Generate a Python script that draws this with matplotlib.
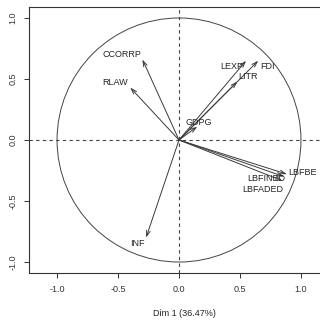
import matplotlib
matplotlib.use("Agg")
import matplotlib.pyplot as plt
from matplotlib.patches import Circle

plt.rcParams['font.family'] = ['Liberation Sans', 'DejaVu Sans']

variables = ["CCORRP", "RLAW", "LEXP", "FDI", "LITR", "GDPG",
             "LBFBE", "LBFINED", "LBFADED", "INF"]
dim1 = [-0.30, -0.40, 0.55, 0.65, 0.48, 0.15, 0.885, 0.86, 0.85, -0.27]
dim2 = [0.66, 0.43, 0.65, 0.65, 0.48, 0.11, -0.28, -0.30, -0.335, -0.80]
xlabel = "Dim 1 (36.47%)"
ticks = [-1.0, -0.5, 0.0, 0.5, 1.0]
tick_labels = ["-1.0", "-0.5", "0.0", "0.5", "1.0"]

# label offsets in pixels (layout only)
offsets = [(-20, 5), (-15, 5), (-14, -6), (9, -6), (10, 5), (1, 4),
           (16, 2), (-18, -2), (-20, -9), (-9, -6)]

fig = plt.figure(figsize=(3.2, 3.2), dpi=100)
ax = fig.add_axes([29/320, 47/320, 310/320, 266/320])
ax.set_xlim(-1.23, 1.23 + 10/122)
ax.set_ylim(-1.09, 1.09)

col = "#3a3a3a"
ax.add_patch(Circle((0, 0), 1.0, fill=False, ec="#444444", lw=0.7))
ax.axhline(0, color="#444444", lw=0.8, ls=(0, (3, 3)))
ax.axvline(0, color="#444444", lw=0.8, ls=(0, (3, 3)))

for name, x, y, (dx, dy) in zip(variables, dim1, dim2, offsets):
    ax.annotate("", xy=(x, y), xytext=(0, 0),
                arrowprops=dict(arrowstyle="->,head_length=0.4,head_width=0.13",
                                color=col, lw=0.7, shrinkA=0, shrinkB=0,
                                mutation_scale=10))
    ax.annotate(name, xy=(x, y), xytext=(dx, dy), textcoords="offset pixels",
                ha="center", va="center", fontsize=6.5, color="#222222")

ax.set_xticks(ticks)
ax.set_xticklabels(tick_labels)
ax.set_yticks(ticks)
ax.set_yticklabels(tick_labels, rotation=90, va="center")
ax.tick_params(labelsize=6.5, length=3.5, width=0.7, colors="#333333", pad=5)
for s in ax.spines.values():
    s.set_linewidth(0.8)
    s.set_color("#333333")
ax.set_xlabel(xlabel, fontsize=6.5, color="#222222", labelpad=11)

fig.savefig("out.png", dpi=100)
